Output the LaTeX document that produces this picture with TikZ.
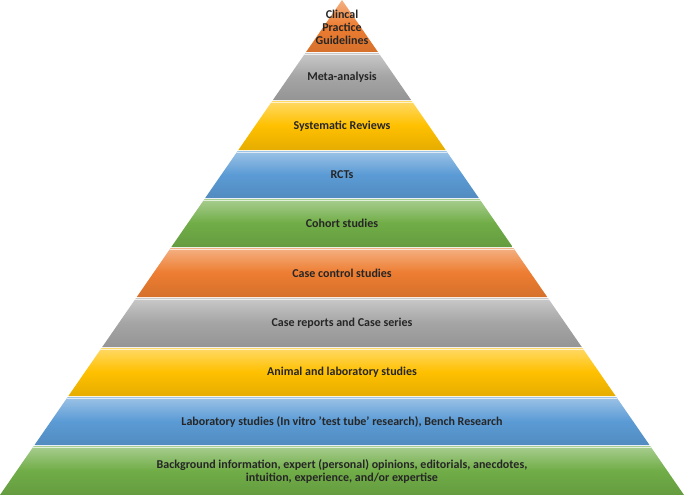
\documentclass[tikz,border=0pt]{standalone}
\usepackage{fontspec}
\setmainfont{Carlito}
\begin{document}
\begin{tikzpicture}[x=1pt,y=-1pt,
  lbl/.style={font=\bfseries\fontsize{12}{13}\selectfont,text=black!85,align=center}]
\definecolor{cO}{HTML}{ED7D31}\definecolor{cG}{HTML}{A5A5A5}
\definecolor{cY}{HTML}{FFC000}\definecolor{cB}{HTML}{5B9BD5}
\definecolor{cN}{HTML}{70AD47}
\useasboundingbox (0,0) rectangle (685,495);
\def\k{0.691}
\foreach \ya/\yb/\c/\t [count=\i] in {
 2/52/cO/{Clincal\\Practice\\Guidelines},
 52/100/cG/Meta-analysis,
 100/150/cY/Systematic Reviews,
 150/198/cB/RCTs,
 198/247/cN/Cohort studies,
 247/297/cO/Case control studies,
 297/347/cG/Case reports and Case series,
 347/396/cY/Animal and laboratory studies,
 396/445/cB/{Laboratory studies (In vitro 'test tube' research), Bench Research},
 445/495/cN/{Background information, expert (personal) opinions, editorials, anecdotes,\\intuition, experience, and/or expertise}}{
  \pgfmathsetmacro\ta{\ya==2?0:(\ya+1)}
  \shade[top color=\c!60!white,bottom color=\c!90!black,middle color=\c]
    ({342-\k*\ta},\ta) -- ({342+\k*\ta},\ta) -- ({342+\k*\yb},\yb) -- ({342-\k*\yb},\yb) -- cycle;
  \ifnum\i>1
    \draw[white!80!\c,line width=1.5pt] ({342-\k*(\ta+1.5)},{\ta+1.5}) -- ({342+\k*(\ta+1.5)},{\ta+1.5});
  \fi
  \node[lbl] (n\i) at (342,{(\ya+\yb)/2+(\i==1?0:1)}) {\t};
}
\end{tikzpicture}
\end{document}
